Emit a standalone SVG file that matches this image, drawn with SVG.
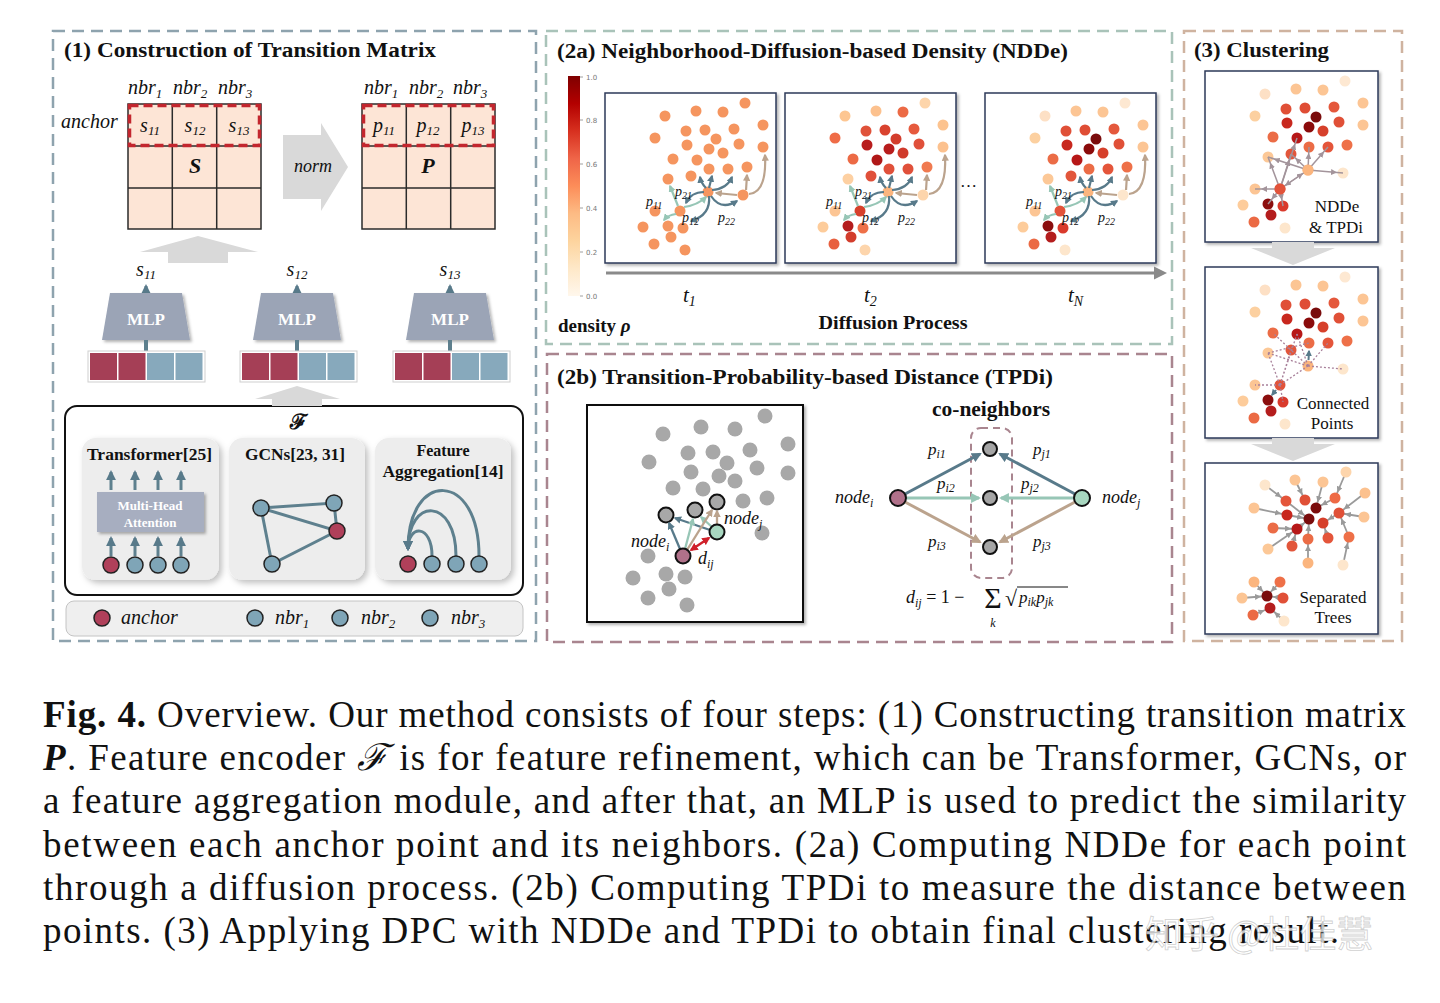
<svg xmlns="http://www.w3.org/2000/svg" xmlns:xlink="http://www.w3.org/1999/xlink" width="1440" height="1003" viewBox="0 0 1440 1003">
<style>
.ttl{font-family:"Liberation Serif","DejaVu Serif",serif;font-weight:bold;font-size:20.5px;fill:#111}
.m{font-family:"Liberation Serif","DejaVu Serif",serif;font-style:italic;fill:#111}
.b{font-family:"Liberation Serif","DejaVu Serif",serif;font-weight:bold;fill:#111}
.r{font-family:"Liberation Serif","DejaVu Serif",serif;fill:#111}
.dash{fill:none;stroke-width:2.5;stroke-dasharray:12 7}
.sc{fill:#fff;stroke:#2d3a5a;stroke-width:1.5}
.cap{font-family:"Liberation Serif","DejaVu Serif",serif;font-size:37px;fill:#111}
.gp{fill:#a8a8a8}
.hl{stroke:#111;stroke-width:2}
.cell{fill:#fde5d6;stroke:#2b2b2b;stroke-width:1.5}
.mlp{fill:#9ba4b6}
.red{fill:#b0405a;stroke:#222;stroke-width:1.5}
.blu{fill:#7fa5b7;stroke:#222;stroke-width:1.5}
.dk{fill:none;stroke:#587a8a}
.te{fill:none;stroke:#97c6b6}
.tn{fill:none;stroke:#bba38d}
.gray{fill:#d9d9d9}
.tree line{stroke:#9a9a9a;stroke-width:1.8}
.boxA line{stroke:#a3949b;stroke-width:1.5}
.boxB path{fill:none;stroke:#a8809a;stroke-width:1.3;stroke-dasharray:2 2}
</style>
<defs>
<filter id="sh" x="-10%" y="-10%" width="125%" height="125%"><feDropShadow dx="2" dy="2" stdDeviation="1.5" flood-opacity="0.3"/></filter>
<filter id="sh2" x="-10%" y="-10%" width="130%" height="130%"><feDropShadow dx="3" dy="3" stdDeviation="3" flood-opacity="0.25"/></filter>
<linearGradient id="orrd" x1="0" y1="0" x2="0" y2="1">
<stop offset="0" stop-color="#7f0000"/><stop offset="0.125" stop-color="#b30000"/><stop offset="0.25" stop-color="#d7301f"/><stop offset="0.375" stop-color="#ef6548"/><stop offset="0.5" stop-color="#fc8d59"/><stop offset="0.625" stop-color="#fdbb84"/><stop offset="0.75" stop-color="#fdd49e"/><stop offset="0.875" stop-color="#fee8c8"/><stop offset="1" stop-color="#fff7ec"/>
</linearGradient>
<marker id="md" viewBox="0 0 10 10" refX="8" refY="5" markerWidth="3.3" markerHeight="3.3" orient="auto-start-reverse"><path d="M0,0 L10,5 L0,10 z" fill="#587a8a"/></marker>
<marker id="mt" viewBox="0 0 10 10" refX="8" refY="5" markerWidth="3.3" markerHeight="3.3" orient="auto-start-reverse"><path d="M0,0 L10,5 L0,10 z" fill="#97c6b6"/></marker>
<marker id="mn" viewBox="0 0 10 10" refX="8" refY="5" markerWidth="3.3" markerHeight="3.3" orient="auto-start-reverse"><path d="M0,0 L10,5 L0,10 z" fill="#bba38d"/></marker>
<marker id="mr" viewBox="0 0 10 10" refX="8" refY="5" markerWidth="3.3" markerHeight="3.3" orient="auto-start-reverse"><path d="M0,0 L10,5 L0,10 z" fill="#d0202a"/></marker>
<marker id="mm" viewBox="0 0 6 6" refX="12" refY="3" markerWidth="6" markerHeight="6" markerUnits="userSpaceOnUse" orient="auto"><path d="M0,0 L6,3 L0,6 z" fill="#a3949b"/></marker>
<marker id="mg" viewBox="0 0 6 6" refX="12" refY="3" markerWidth="6" markerHeight="6" markerUnits="userSpaceOnUse" orient="auto"><path d="M0,0 L6,3 L0,6 z" fill="#9a9a9a"/></marker>
<g id="diffArr">
<path class="dk" stroke-width="2.2" marker-end="url(#md)" d="M101,95 Q96,90 95,84"/>
<path class="dk" stroke-width="2.2" marker-end="url(#md)" d="M104,95 L107,83"/>
<path class="dk" stroke-width="2.2" marker-end="url(#md)" d="M107,97 Q122,96 127,84"/>
<path class="dk" stroke-width="2.2" marker-end="url(#md)" d="M99,99 Q86,99 81,110"/>
<path class="dk" stroke-width="2.2" marker-end="url(#md)" d="M104,103 Q106,122 86,128"/>
<path class="dk" stroke-width="2.2" marker-end="url(#md)" d="M106,103 Q116,118 132,108"/>
<path class="te" stroke-width="2.2" marker-end="url(#mt)" d="M73,113 L65,93"/>
<path class="te" stroke-width="2.2" marker-end="url(#mt)" d="M71,121 Q63,122 59,127"/>
<path class="te" stroke-width="2.2" marker-end="url(#mt)" d="M79,114 Q93,112 101,104"/>
<path class="tn" stroke-width="2.2" marker-end="url(#mn)" d="M132,102 L111,100"/>
<path class="tn" stroke-width="2.2" marker-end="url(#mn)" d="M141,97 L142,82"/>
<path class="tn" stroke-width="2.2" marker-end="url(#mn)" d="M144,101 Q162,99 160,62"/>
</g>
<g id="ptsN">
<circle cx="140" cy="10" r="5.5" fill="#fde8d2"/><circle cx="60" cy="23" r="5.5" fill="#fde0c5"/><circle cx="91" cy="18" r="5.5" fill="#fcc594"/><circle cx="118" cy="19" r="5.5" fill="#fcc594"/><circle cx="158" cy="32" r="5.5" fill="#fcc594"/><circle cx="50" cy="45" r="5.5" fill="#fcd0a0"/><circle cx="81" cy="38" r="5.5" fill="#e05037"/><circle cx="100" cy="37" r="5.5" fill="#df4d35"/><circle cx="129" cy="36" r="5.5" fill="#e4583c"/><circle cx="111" cy="46" r="5.5" fill="#7a0c0c"/><circle cx="134" cy="51" r="5.5" fill="#e05037"/><circle cx="158" cy="54" r="5.5" fill="#fcc594"/><circle cx="82" cy="52" r="5.5" fill="#c8281e"/><circle cx="104" cy="56" r="5.5" fill="#8b0b0b"/><circle cx="118" cy="60" r="5.5" fill="#d6402b"/><circle cx="68" cy="66" r="5.5" fill="#eb6c46"/><circle cx="92" cy="67" r="5.5" fill="#b71818"/><circle cx="104" cy="76" r="5.5" fill="#eb6c46"/><circle cx="123" cy="76" r="5.5" fill="#e4553a"/><circle cx="142" cy="74" r="5.5" fill="#ee7048"/><circle cx="86" cy="83" r="5.5" fill="#e2563b"/><circle cx="63" cy="86" r="5.5" fill="#fcc897"/><circle cx="103" cy="99" r="5.5" fill="#fbb57e"/><circle cx="138" cy="102" r="5.5" fill="#fde6cc"/><circle cx="75" cy="118" r="5.5" fill="#e2533a"/><circle cx="50" cy="118" r="5.5" fill="#fcc594"/><circle cx="38" cy="134" r="5.5" fill="#fdcc9b"/><circle cx="63" cy="133" r="5.5" fill="#8b0e0e"/><circle cx="78" cy="135" r="5.5" fill="#d93a2c"/><circle cx="66" cy="144" r="5.5" fill="#b41d1d"/><circle cx="49" cy="151" r="5.5" fill="#eb6a44"/><circle cx="80" cy="157" r="5.5" fill="#fde6cc"/>
</g>
</defs>
<rect width="1440" height="1003" fill="#fff"/>

<!-- ===== Panel 1 ===== -->
<g id="panel1">
<rect class="dash" x="53" y="31" width="483" height="610" stroke="#8ea3ae"/>
<text class="ttl" x="64" y="57" textLength="372" lengthAdjust="spacingAndGlyphs">(1) Construction of Transition Matrix</text>
</g>
<g id="matrixS">
<rect class="cell" x="128" y="104" width="133" height="125"/>
<path d="M172.3,104 V229 M216.7,104 V229 M128,146 H261 M128,188 H261" stroke="#2b2b2b" stroke-width="1.5"/>
<rect x="129.5" y="105.5" width="130" height="40" fill="none" stroke="#c3262e" stroke-width="3.5" stroke-dasharray="9 5"/>
<text class="m" font-size="20" x="128" y="94">nbr<tspan font-size="13" dy="4">1</tspan></text>
<text class="m" font-size="20" x="173" y="94">nbr<tspan font-size="13" dy="4">2</tspan></text>
<text class="m" font-size="20" x="218" y="94">nbr<tspan font-size="13" dy="4">3</tspan></text>
<text class="m" font-size="20" x="61" y="128">anchor</text>
<text class="m" font-size="20" x="150" y="132" text-anchor="middle">s<tspan font-size="13" dy="3">11</tspan></text>
<text class="m" font-size="20" x="195" y="132" text-anchor="middle">s<tspan font-size="13" dy="3">12</tspan></text>
<text class="m" font-size="20" x="239" y="132" text-anchor="middle">s<tspan font-size="13" dy="3">13</tspan></text>
<text class="m" font-size="22" font-weight="bold" x="195" y="173" text-anchor="middle">S</text>
</g>
<g id="matrixP">
<rect class="cell" x="362" y="104" width="133" height="125"/>
<path d="M406.3,104 V229 M450.7,104 V229 M362,146 H495 M362,188 H495" stroke="#2b2b2b" stroke-width="1.5"/>
<rect x="363.5" y="105.5" width="130" height="40" fill="none" stroke="#c3262e" stroke-width="3.5" stroke-dasharray="9 5"/>
<text class="m" font-size="20" x="364" y="94">nbr<tspan font-size="13" dy="4">1</tspan></text>
<text class="m" font-size="20" x="409" y="94">nbr<tspan font-size="13" dy="4">2</tspan></text>
<text class="m" font-size="20" x="453" y="94">nbr<tspan font-size="13" dy="4">3</tspan></text>
<text class="m" font-size="20" x="384" y="132" text-anchor="middle">p<tspan font-size="13" dy="3">11</tspan></text>
<text class="m" font-size="20" x="428" y="132" text-anchor="middle">p<tspan font-size="13" dy="3">12</tspan></text>
<text class="m" font-size="20" x="473" y="132" text-anchor="middle">p<tspan font-size="13" dy="3">13</tspan></text>
<text class="m" font-size="22" font-weight="bold" x="428" y="173" text-anchor="middle">P</text>
</g>

<g id="mlp1">
<line x1="146" y1="293" x2="146" y2="286" stroke="#5d7f8d" stroke-width="3" marker-end="url(#md)"/>
<text class="m" font-size="20" x="146" y="276" text-anchor="middle">s<tspan font-size="13" dy="3">11</tspan></text>
<polygon class="mlp" points="110,293 182,293 190,340 102,340" filter="url(#sh)"/>
<text class="b" font-size="17" x="146" y="325" text-anchor="middle" style="fill:#fff">MLP</text>
<rect x="144" y="340" width="4" height="12" fill="#5d7f8d"/>
<rect x="88" y="351" width="117" height="31" fill="#fff" stroke="#cfcfcf"/>
<rect x="90" y="353" width="27" height="27" fill="#a53f56"/><rect x="118.5" y="353" width="27" height="27" fill="#a53f56"/><rect x="147" y="353" width="27" height="27" fill="#87a9bc"/><rect x="175.5" y="353" width="27" height="27" fill="#87a9bc"/>
</g>
<g id="mlp2">
<line x1="297" y1="293" x2="297" y2="286" stroke="#5d7f8d" stroke-width="3" marker-end="url(#md)"/>
<text class="m" font-size="20" x="297" y="276" text-anchor="middle">s<tspan font-size="13" dy="3">12</tspan></text>
<polygon class="mlp" points="261,293 333,293 341,340 253,340" filter="url(#sh)"/>
<text class="b" font-size="17" x="297" y="325" text-anchor="middle" style="fill:#fff">MLP</text>
<rect x="295" y="340" width="4" height="12" fill="#5d7f8d"/>
<rect x="240" y="351" width="117" height="31" fill="#fff" stroke="#cfcfcf"/>
<rect x="242" y="353" width="27" height="27" fill="#a53f56"/><rect x="270.5" y="353" width="27" height="27" fill="#a53f56"/><rect x="299" y="353" width="27" height="27" fill="#87a9bc"/><rect x="327.5" y="353" width="27" height="27" fill="#87a9bc"/>
</g>
<g id="mlp3">
<line x1="450" y1="293" x2="450" y2="286" stroke="#5d7f8d" stroke-width="3" marker-end="url(#md)"/>
<text class="m" font-size="20" x="450" y="276" text-anchor="middle">s<tspan font-size="13" dy="3">13</tspan></text>
<polygon class="mlp" points="414,293 486,293 494,340 406,340" filter="url(#sh)"/>
<text class="b" font-size="17" x="450" y="325" text-anchor="middle" style="fill:#fff">MLP</text>
<rect x="448" y="340" width="4" height="12" fill="#5d7f8d"/>
<rect x="393" y="351" width="117" height="31" fill="#fff" stroke="#cfcfcf"/>
<rect x="395" y="353" width="27" height="27" fill="#a53f56"/><rect x="423.5" y="353" width="27" height="27" fill="#a53f56"/><rect x="452" y="353" width="27" height="27" fill="#87a9bc"/><rect x="480.5" y="353" width="27" height="27" fill="#87a9bc"/>
</g>

<g id="encoderF">
<rect x="65" y="406" width="458" height="189" rx="12" fill="#fff" stroke="#111" stroke-width="2"/>
<text class="b" font-size="21" x="298" y="429" text-anchor="middle">ℱ</text>
<rect x="82" y="438" width="137" height="142" rx="14" fill="#ededed" filter="url(#sh2)"/>
<rect x="229" y="438" width="136" height="142" rx="14" fill="#ededed" filter="url(#sh2)"/>
<rect x="375" y="438" width="136" height="142" rx="14" fill="#ededed" filter="url(#sh2)"/>
</g>
<g id="transformer">
<text class="b" font-size="16" x="87" y="460" textLength="125" lengthAdjust="spacingAndGlyphs">Transformer[25]</text>
<rect x="97" y="492" width="107" height="40" fill="#a7aec0" filter="url(#sh)"/>
<text class="b" font-size="13" x="150" y="510" text-anchor="middle" style="fill:#fff">Multi-Head</text>
<text class="b" font-size="13" x="150" y="527" text-anchor="middle" style="fill:#fff">Attention</text>
<g stroke="#5e808e" stroke-width="3" marker-end="url(#md)">
<line x1="111" y1="490" x2="111" y2="472"/><line x1="135" y1="490" x2="135" y2="472"/><line x1="158" y1="490" x2="158" y2="472"/><line x1="181" y1="490" x2="181" y2="472"/>
<line x1="111" y1="556" x2="111" y2="538"/><line x1="135" y1="556" x2="135" y2="538"/><line x1="158" y1="556" x2="158" y2="538"/><line x1="181" y1="556" x2="181" y2="538"/>
</g>
<circle class="red" cx="111" cy="565" r="8"/><circle class="blu" cx="135" cy="565" r="8"/><circle class="blu" cx="158" cy="565" r="8"/><circle class="blu" cx="181" cy="565" r="8"/>
</g>
<g id="gcn">
<text class="b" font-size="16" x="245" y="460" textLength="100" lengthAdjust="spacingAndGlyphs">GCNs[23, 31]</text>
<path d="M261,508 L334,503 L337,531 Z M261,508 L272,564 L337,531" fill="none" stroke="#5e808e" stroke-width="3"/>
<circle class="blu" cx="261" cy="508" r="8"/><circle class="blu" cx="334" cy="503" r="8"/><circle class="red" cx="337" cy="531" r="8"/><circle class="blu" cx="272" cy="564" r="8"/>
</g>
<g id="featagg">
<text class="b" font-size="16" x="443" y="456" text-anchor="middle">Feature</text>
<text class="b" font-size="16" x="443" y="477" text-anchor="middle" textLength="121" lengthAdjust="spacingAndGlyphs">Aggregation[14]</text>
<g fill="none" stroke="#5e808e" stroke-width="3" marker-end="url(#md)">
<path d="M479,556 C479,470 408,470 408,549"/>
<path d="M456,556 C456,497 408,497 408,549"/>
<path d="M432,556 C432,524 408,524 408,549"/>
</g>
<circle class="red" cx="408" cy="564" r="8"/><circle class="blu" cx="432" cy="564" r="8"/><circle class="blu" cx="456" cy="564" r="8"/><circle class="blu" cx="479" cy="564" r="8"/>
</g>
<g id="legend">
<rect x="66" y="601" width="457" height="35" rx="8" fill="#efefef" stroke="#c4c4c4"/>
<circle class="red" cx="102" cy="618" r="8"/>
<text class="m" font-size="20" x="121" y="624">anchor</text>
<circle class="blu" cx="255" cy="618" r="8"/>
<text class="m" font-size="20" x="275" y="624">nbr<tspan font-size="13" dy="4">1</tspan></text>
<circle class="blu" cx="340" cy="618" r="8"/>
<text class="m" font-size="20" x="361" y="624">nbr<tspan font-size="13" dy="4">2</tspan></text>
<circle class="blu" cx="430" cy="618" r="8"/>
<text class="m" font-size="20" x="451" y="624">nbr<tspan font-size="13" dy="4">3</tspan></text>
</g>

<!-- ===== Panel 2a ===== -->
<g id="panel2a">
<rect class="dash" x="546" y="31" width="626" height="313" stroke="#a9c3b9"/>
<text class="ttl" x="557" y="58" textLength="511" lengthAdjust="spacingAndGlyphs">(2a) Neighborhood-Diffusion-based Density (NDDe)</text>
<rect x="568" y="76" width="12" height="220" fill="url(#orrd)"/>
<path d="M580,77 h3 M580,120 h3 M580,164 h3 M580,208 h3 M580,252 h3 M580,296 h3" stroke="#888" stroke-width="0.8"/>
<g font-family="DejaVu Sans, sans-serif" font-size="7" fill="#777">
<text x="586" y="79.5">1.0</text><text x="586" y="123">0.8</text><text x="586" y="167">0.6</text><text x="586" y="211">0.4</text><text x="586" y="255">0.2</text><text x="586" y="299">0.0</text>
</g>
<text class="b" font-size="19" x="558" y="332">density <tspan font-style="italic">ρ</tspan></text>
<text class="b" font-size="19" x="893" y="329" text-anchor="middle" textLength="149" lengthAdjust="spacingAndGlyphs">Diffusion Process</text>
<text class="m" font-size="21" x="683" y="302">t<tspan font-size="14" dy="4">1</tspan></text>
<text class="m" font-size="21" x="864" y="302">t<tspan font-size="14" dy="4">2</tspan></text>
<text class="m" font-size="21" x="1068" y="302">t<tspan font-size="14" dy="4">N</tspan></text>
<text class="r" font-size="17" x="960" y="187">…</text>
</g>
<g id="plot_t1" transform="translate(605,93)">
<rect class="sc" width="171" height="170" filter="url(#sh)"/>
<g fill="#f5955f">
<circle cx="140" cy="10" r="5.5"/><circle cx="60" cy="23" r="5.5"/><circle cx="91" cy="18" r="5.5"/><circle cx="118" cy="19" r="5.5"/><circle cx="158" cy="32" r="5.5"/><circle cx="50" cy="45" r="5.5"/><circle cx="81" cy="38" r="5.5"/><circle cx="100" cy="37" r="5.5"/><circle cx="129" cy="36" r="5.5"/><circle cx="111" cy="46" r="5.5"/><circle cx="134" cy="51" r="5.5"/><circle cx="158" cy="54" r="5.5"/><circle cx="82" cy="52" r="5.5"/><circle cx="104" cy="56" r="5.5"/><circle cx="118" cy="60" r="5.5"/><circle cx="68" cy="66" r="5.5"/><circle cx="92" cy="67" r="5.5"/><circle cx="104" cy="76" r="5.5"/><circle cx="123" cy="76" r="5.5"/><circle cx="142" cy="74" r="5.5"/><circle cx="86" cy="83" r="5.5"/><circle cx="63" cy="86" r="5.5"/><circle cx="103" cy="99" r="5.5"/><circle cx="138" cy="102" r="5.5"/><circle cx="75" cy="118" r="5.5"/><circle cx="50" cy="118" r="5.5"/><circle cx="38" cy="134" r="5.5"/><circle cx="63" cy="133" r="5.5"/><circle cx="78" cy="135" r="5.5"/><circle cx="66" cy="144" r="5.5"/><circle cx="49" cy="151" r="5.5"/><circle cx="80" cy="157" r="5.5"/>
</g>
<use href="#diffArr"/>
<text class="m" font-size="14" x="70" y="103">p<tspan font-size="10" dy="3">21</tspan></text>
<text class="m" font-size="14" x="41" y="113">p<tspan font-size="10" dy="3">11</tspan></text>
<text class="m" font-size="14" x="77" y="129">p<tspan font-size="10" dy="3">12</tspan></text>
<text class="m" font-size="14" x="113" y="129">p<tspan font-size="10" dy="3">22</tspan></text>
</g>
<g id="plot_t2" transform="translate(785,93)">
<rect class="sc" width="171" height="170" filter="url(#sh)"/>
<circle cx="140" cy="10" r="5.5" fill="#fdd5ab"/><circle cx="60" cy="23" r="5.5" fill="#fdc692"/><circle cx="91" cy="18" r="5.5" fill="#fcc18e"/><circle cx="118" cy="19" r="5.5" fill="#ec6a45"/><circle cx="158" cy="32" r="5.5" fill="#fcc38f"/><circle cx="50" cy="45" r="5.5" fill="#ef6c47"/><circle cx="81" cy="38" r="5.5" fill="#e0523a"/><circle cx="100" cy="37" r="5.5" fill="#d9432f"/><circle cx="129" cy="36" r="5.5" fill="#e65a3d"/><circle cx="111" cy="46" r="5.5" fill="#d33d2c"/><circle cx="134" cy="51" r="5.5" fill="#e0503a"/><circle cx="158" cy="54" r="5.5" fill="#fcc18e"/><circle cx="82" cy="52" r="5.5" fill="#b81d1d"/><circle cx="104" cy="56" r="5.5" fill="#b81d1d"/><circle cx="118" cy="60" r="5.5" fill="#d03a2b"/><circle cx="68" cy="66" r="5.5" fill="#ec6a45"/><circle cx="92" cy="67" r="5.5" fill="#b01818"/><circle cx="104" cy="76" r="5.5" fill="#e0503a"/><circle cx="123" cy="76" r="5.5" fill="#e0503a"/><circle cx="142" cy="74" r="5.5" fill="#f07a50"/><circle cx="86" cy="83" r="5.5" fill="#e0503a"/><circle cx="63" cy="86" r="5.5" fill="#fdd0a2"/><circle cx="103" cy="99" r="5.5" fill="#fbb57e"/><circle cx="138" cy="102" r="5.5" fill="#fdd5ac"/><circle cx="75" cy="118" r="5.5" fill="#d6402b"/><circle cx="50" cy="118" r="5.5" fill="#fcc594"/><circle cx="38" cy="134" r="5.5" fill="#fdcc9b"/><circle cx="63" cy="133" r="5.5" fill="#b41d1d"/><circle cx="78" cy="135" r="5.5" fill="#ee7048"/><circle cx="66" cy="144" r="5.5" fill="#d33d2c"/><circle cx="49" cy="151" r="5.5" fill="#e8603f"/><circle cx="80" cy="157" r="5.5" fill="#fdd5ac"/>
<use href="#diffArr"/>
<text class="m" font-size="14" x="70" y="103">p<tspan font-size="10" dy="3">21</tspan></text>
<text class="m" font-size="14" x="41" y="113">p<tspan font-size="10" dy="3">11</tspan></text>
<text class="m" font-size="14" x="77" y="129">p<tspan font-size="10" dy="3">12</tspan></text>
<text class="m" font-size="14" x="113" y="129">p<tspan font-size="10" dy="3">22</tspan></text>
</g>
<g id="plot_tN" transform="translate(985,93)">
<rect class="sc" width="171" height="170" filter="url(#sh)"/>
<use href="#ptsN"/>
<use href="#diffArr"/>
<text class="m" font-size="14" x="70" y="103">p<tspan font-size="10" dy="3">21</tspan></text>
<text class="m" font-size="14" x="41" y="113">p<tspan font-size="10" dy="3">11</tspan></text>
<text class="m" font-size="14" x="77" y="129">p<tspan font-size="10" dy="3">12</tspan></text>
<text class="m" font-size="14" x="113" y="129">p<tspan font-size="10" dy="3">22</tspan></text>
</g>

<!-- ===== Panel 2b ===== -->
<g id="panel2b">
<rect class="dash" x="547" y="354" width="625" height="288" stroke="#a9858f"/>
<text class="ttl" x="557" y="384" textLength="496" lengthAdjust="spacingAndGlyphs">(2b) Transition-Probability-based Distance (TPDi)</text>
</g>
<g id="tpdiScatter">
<rect x="587" y="405" width="216" height="217" fill="#fff" stroke="#111" stroke-width="2" filter="url(#sh)"/>
<g class="gp">
<circle cx="765" cy="416" r="7.5"/><circle cx="701" cy="427" r="7.5"/><circle cx="735" cy="429" r="7.5"/><circle cx="663" cy="434" r="7.5"/><circle cx="788" cy="444" r="7.5"/><circle cx="688" cy="453" r="7.5"/><circle cx="713" cy="452" r="7.5"/><circle cx="750" cy="450" r="7.5"/><circle cx="649" cy="462" r="7.5"/><circle cx="727" cy="463" r="7.5"/><circle cx="691" cy="472" r="7.5"/><circle cx="757" cy="468" r="7.5"/><circle cx="788" cy="473" r="7.5"/><circle cx="719" cy="476" r="7.5"/><circle cx="735" cy="481" r="7.5"/><circle cx="673" cy="488" r="7.5"/><circle cx="703" cy="489" r="7.5"/><circle cx="743" cy="501" r="7.5"/><circle cx="767" cy="498" r="7.5"/><circle cx="762" cy="533" r="7.5"/><circle cx="648" cy="556" r="7.5"/><circle cx="666" cy="574" r="7.5"/><circle cx="685" cy="577" r="7.5"/><circle cx="633" cy="578" r="7.5"/><circle cx="669" cy="589" r="7.5"/><circle cx="648" cy="598" r="7.5"/><circle cx="687" cy="605" r="7.5"/>
</g>
<circle class="hl" cx="666" cy="515" r="7.5" fill="#a8a8a8"/><circle class="hl" cx="695" cy="510" r="7.5" fill="#a8a8a8"/><circle class="hl" cx="717" cy="502" r="7.5" fill="#a8a8a8"/>
<g stroke-width="2.3" fill="none">
<line class="dk" x1="680" y1="549" x2="669" y2="523" marker-end="url(#md)"/>
<line class="dk" x1="710" y1="530" x2="675" y2="518" marker-end="url(#md)"/>
<line class="te" x1="685" y1="549" x2="693" y2="519" marker-end="url(#mt)"/>
<line class="te" x1="712" y1="527" x2="701" y2="517" marker-end="url(#mt)"/>
<line class="tn" x1="687" y1="550" x2="712" y2="510" marker-end="url(#mn)"/>
<line class="tn" x1="717" y1="525" x2="717" y2="511" marker-end="url(#mn)"/>
<line x1="691" y1="550" x2="709" y2="538" stroke="#d0202a" stroke-width="2.5" marker-start="url(#mr)" marker-end="url(#mr)"/>
</g>
<circle class="hl" cx="717" cy="532" r="7.5" fill="#a8d7c0"/>
<circle class="hl" cx="683" cy="556" r="7.5" fill="#b0718a"/>
<text class="m" font-size="18" x="631" y="547">node<tspan font-size="12" dy="4">i</tspan></text>
<text class="m" font-size="18" x="724" y="524">node<tspan font-size="12" dy="4">j</tspan></text>
<text class="m" font-size="18" x="698" y="564">d<tspan font-size="12" dy="4">ij</tspan></text>
</g>
<g id="coneighbors">
<text class="b" font-size="20" x="991" y="416" text-anchor="middle" textLength="118" lengthAdjust="spacingAndGlyphs">co-neighbors</text>
<rect x="971" y="428" width="41" height="150" rx="10" fill="none" stroke="#a9858f" stroke-width="2" stroke-dasharray="7 5"/>
<g stroke-width="3" fill="none">
<line class="dk" x1="905" y1="494" x2="980" y2="454" marker-end="url(#md)"/>
<line class="dk" x1="1075" y1="494" x2="1000" y2="454" marker-end="url(#md)"/>
<line class="te" x1="907" y1="498" x2="979" y2="498" marker-end="url(#mt)"/>
<line class="te" x1="1073" y1="498" x2="1001" y2="498" marker-end="url(#mt)"/>
<line class="tn" x1="905" y1="502" x2="980" y2="542" marker-end="url(#mn)"/>
<line class="tn" x1="1075" y1="502" x2="1000" y2="542" marker-end="url(#mn)"/>
</g>
<circle class="hl" cx="990" cy="449" r="7" fill="#a5a5a5" stroke-width="1.6"/>
<circle class="hl" cx="990" cy="498" r="7" fill="#a5a5a5" stroke-width="1.6"/>
<circle class="hl" cx="990" cy="547" r="7" fill="#a5a5a5" stroke-width="1.6"/>
<circle class="hl" cx="898" cy="498" r="8" fill="#b0718a" stroke-width="1.6"/>
<circle class="hl" cx="1082" cy="498" r="8" fill="#a8d7c0" stroke-width="1.6"/>
<text class="m" font-size="18" x="835" y="503">node<tspan font-size="12" dy="4">i</tspan></text>
<text class="m" font-size="18" x="1102" y="503">node<tspan font-size="12" dy="4">j</tspan></text>
<text class="m" font-size="17" x="928" y="455">p<tspan font-size="12" dy="3">i1</tspan></text>
<text class="m" font-size="17" x="1033" y="455">p<tspan font-size="12" dy="3">j1</tspan></text>
<text class="m" font-size="17" x="937" y="489">p<tspan font-size="12" dy="3">i2</tspan></text>
<text class="m" font-size="17" x="1021" y="489">p<tspan font-size="12" dy="3">j2</tspan></text>
<text class="m" font-size="17" x="928" y="547">p<tspan font-size="12" dy="3">i3</tspan></text>
<text class="m" font-size="17" x="1033" y="547">p<tspan font-size="12" dy="3">j3</tspan></text>
<text class="m" font-size="18" x="906" y="603">d<tspan font-size="12" dy="4">ij</tspan><tspan font-style="normal" dy="-4"> = 1 − </tspan></text>
<text class="r" font-size="30" x="993" y="608" text-anchor="middle">Σ</text>
<text class="m" font-size="12" x="993" y="627" text-anchor="middle">k</text>
<text class="r" font-size="22" x="1005" y="606">√</text>
<line x1="1017" y1="587" x2="1068" y2="587" stroke="#111" stroke-width="1"/>
<text class="m" font-size="17" x="1019" y="603">p<tspan font-size="12" dy="3">ik</tspan><tspan dy="-3">p</tspan><tspan font-size="12" dy="3">jk</tspan></text>
</g>

<!-- ===== Panel 3 ===== -->
<g id="panel3">
<rect class="dash" x="1184" y="31" width="218" height="610" stroke="#cfb3a0"/>
<text class="ttl" x="1194" y="57" textLength="135" lengthAdjust="spacingAndGlyphs">(3) Clustering</text>
</g>
<g id="boxA" transform="translate(1205,71)">
<rect class="sc" width="173" height="171" filter="url(#sh)"/>
<use href="#ptsN"/>
<g class="boxA">
<line x1="103" y1="99" x2="63" y2="86" marker-end="url(#mm)"/>
<line x1="103" y1="99" x2="86" y2="83" marker-end="url(#mm)"/>
<line x1="103" y1="99" x2="104" y2="76" marker-end="url(#mm)"/>
<line x1="103" y1="99" x2="123" y2="76" marker-end="url(#mm)"/>
<line x1="103" y1="99" x2="138" y2="102" marker-end="url(#mm)"/>
<line x1="103" y1="99" x2="75" y2="118" marker-end="url(#mm)"/>
<line x1="75" y1="118" x2="63" y2="86" marker-end="url(#mm)"/>
<line x1="75" y1="118" x2="86" y2="83" marker-end="url(#mm)"/>
<line x1="75" y1="118" x2="92" y2="67" marker-end="url(#mm)"/>
<line x1="75" y1="118" x2="103" y2="99" marker-end="url(#mm)"/>
<line x1="75" y1="118" x2="50" y2="118" marker-end="url(#mm)"/>
<line x1="75" y1="118" x2="63" y2="133" marker-end="url(#mm)"/>
<line x1="75" y1="118" x2="78" y2="135" marker-end="url(#mm)"/>
</g>
<circle cx="103" cy="99" r="5.5" fill="#fbb57e"/><circle cx="75" cy="118" r="5.5" fill="#e2533a"/>
<text class="r" font-size="17" x="132" y="141" text-anchor="middle">NDDe</text>
<text class="r" font-size="17" x="131" y="162" text-anchor="middle">&amp; TPDi</text>
</g>
<g id="boxB" transform="translate(1205,267)">
<rect class="sc" width="173" height="171" filter="url(#sh)"/>
<use href="#ptsN"/>
<g class="boxB">
<path d="M103,99 L63,86 M103,99 L86,83 M103,99 L92,67 M103,99 L123,76 M103,99 L138,102 M103,99 L68,66 M75,118 L63,86 M75,118 L86,83 M75,118 L92,67 M75,118 L50,118 M75,118 L78,135 M75,118 L103,99 M63,86 L104,76"/>
</g>
<line x1="103.5" y1="93" x2="104" y2="84" stroke="#587a8a" stroke-width="2" marker-end="url(#md)"/>
<line x1="71" y1="123" x2="67" y2="128" stroke="#587a8a" stroke-width="2" marker-end="url(#md)"/>
<text class="r" font-size="17" x="128" y="142" text-anchor="middle">Connected</text>
<text class="r" font-size="17" x="127" y="162" text-anchor="middle">Points</text>
</g>
<g id="boxC">
<rect class="sc" x="1205" y="463" width="173" height="171" filter="url(#sh)"/>
<g class="tree" marker-end="url(#mg)">
<line x1="1346" y1="472" x2="1335" y2="498"/>
<line x1="1295" y1="480" x2="1305" y2="500"/>
<line x1="1323" y1="482" x2="1316" y2="508"/>
<line x1="1265" y1="485" x2="1286" y2="501"/>
<line x1="1365" y1="493" x2="1339" y2="513"/>
<line x1="1335" y1="498" x2="1316" y2="508"/>
<line x1="1286" y1="501" x2="1309" y2="519"/>
<line x1="1254" y1="508" x2="1287" y2="515"/>
<line x1="1364" y1="517" x2="1339" y2="513"/>
<line x1="1339" y1="513" x2="1323" y2="523"/>
<line x1="1287" y1="515" x2="1309" y2="519"/>
<line x1="1273" y1="528" x2="1297" y2="529"/>
<line x1="1297" y1="529" x2="1309" y2="519"/>
<line x1="1308" y1="539" x2="1309" y2="519"/>
<line x1="1328" y1="538" x2="1323" y2="523"/>
<line x1="1349" y1="537" x2="1339" y2="513"/>
<line x1="1292" y1="546" x2="1297" y2="529"/>
<line x1="1268" y1="549" x2="1297" y2="529"/>
<line x1="1308" y1="563" x2="1308" y2="539"/>
<line x1="1343" y1="565" x2="1349" y2="537"/>
<line x1="1254" y1="582" x2="1267" y2="596"/>
<line x1="1280" y1="582" x2="1267" y2="596"/>
<line x1="1283" y1="598" x2="1267" y2="596"/>
<line x1="1242" y1="598" x2="1267" y2="596"/>
<line x1="1253" y1="615" x2="1270" y2="608"/>
<line x1="1284" y1="621" x2="1270" y2="608"/>
</g>
<circle cx="1346" cy="472" r="5.5" fill="#fdd5ac"/><circle cx="1295" cy="480" r="5.5" fill="#fcc594"/><circle cx="1323" cy="482" r="5.5" fill="#fcc594"/><circle cx="1265" cy="485" r="5.5" fill="#fde6cc"/><circle cx="1365" cy="493" r="5.5" fill="#fcc18e"/><circle cx="1335" cy="498" r="5.5" fill="#ee6a45"/><circle cx="1286" cy="501" r="5.5" fill="#e4553a"/><circle cx="1305" cy="500" r="5.5" fill="#e05037"/><circle cx="1316" cy="508" r="5.5" fill="#7a0c0c"/><circle cx="1339" cy="513" r="5.5" fill="#e05037"/><circle cx="1254" cy="508" r="5.5" fill="#fcc594"/><circle cx="1287" cy="515" r="5.5" fill="#c8281e"/><circle cx="1309" cy="519" r="5.5" fill="#7a0c0c"/><circle cx="1323" cy="523" r="5.5" fill="#d6402b"/><circle cx="1364" cy="517" r="5.5" fill="#fcc594"/><circle cx="1273" cy="528" r="5.5" fill="#eb6c46"/><circle cx="1297" cy="529" r="5.5" fill="#b71818"/><circle cx="1308" cy="539" r="5.5" fill="#eb6c46"/><circle cx="1328" cy="538" r="5.5" fill="#e4553a"/><circle cx="1349" cy="537" r="5.5" fill="#ee7048"/><circle cx="1292" cy="546" r="5.5" fill="#e2563b"/><circle cx="1268" cy="549" r="5.5" fill="#fcc897"/><circle cx="1308" cy="563" r="5.5" fill="#fbb57e"/><circle cx="1343" cy="565" r="5.5" fill="#fde6cc"/>
<circle cx="1254" cy="582" r="5.5" fill="#fbb57e"/><circle cx="1280" cy="582" r="5.5" fill="#ee7048"/><circle cx="1267" cy="596" r="5.5" fill="#7a0c0c"/><circle cx="1283" cy="598" r="5.5" fill="#e05037"/><circle cx="1242" cy="598" r="5.5" fill="#fcc594"/><circle cx="1270" cy="608" r="5.5" fill="#b41d1d"/><circle cx="1253" cy="615" r="5.5" fill="#eb6a44"/><circle cx="1284" cy="621" r="5.5" fill="#fde6cc"/>
<text class="r" font-size="17" x="1333" y="603" text-anchor="middle">Separated</text>
<text class="r" font-size="17" x="1333" y="623" text-anchor="middle">Trees</text>
</g>

<!-- ===== Connectors ===== -->
<g id="connectors">
<polygon class="gray" points="283,135 321,135 321,123 348,167 321,211 321,199 283,199"/>
<text class="m" font-size="18" x="313" y="172" text-anchor="middle">norm</text>
<polygon class="gray" points="168,263 168,252 140,252 198,236 258,252 228,252 228,263"/>
<polygon class="gray" points="272,406 272,399 255,399 297,386 340,399 322,399 322,406"/>
<line x1="606" y1="273" x2="1156" y2="273" stroke="#8a8a8a" stroke-width="3"/>
<polygon points="1167,273 1154,266.5 1154,279.5" fill="#8a8a8a"/>
<polygon class="gray" points="1272,242 1314,242 1314,248 1335,248 1293,265 1251,248 1272,248"/>
<polygon class="gray" points="1272,438 1314,438 1314,444 1335,444 1293,461 1251,444 1272,444"/>
</g>

<!-- ===== Caption ===== -->
<g id="caption">
<text class="cap" x="43" y="727" textLength="1363" lengthAdjust="spacing"><tspan font-weight="bold">Fig. 4.</tspan> Overview. Our method consists of four steps: (1) Constructing transition matrix</text>
<text class="cap" x="43" y="770" textLength="1363" lengthAdjust="spacing"><tspan font-weight="bold" font-style="italic">P</tspan>. Feature encoder <tspan font-style="italic">ℱ</tspan> is for feature refinement, which can be Transformer, GCNs, or</text>
<text class="cap" x="43" y="813" textLength="1363" lengthAdjust="spacing">a feature aggregation module, and after that, an MLP is used to predict the similarity</text>
<text class="cap" x="43" y="857" textLength="1363" lengthAdjust="spacing">between each anchor point and its neighbors. (2a) Computing NDDe for each point</text>
<text class="cap" x="43" y="900" textLength="1363" lengthAdjust="spacing">through a diffusion process. (2b) Computing TPDi to measure the distance between</text>
<text class="cap" x="43" y="943" textLength="1296" lengthAdjust="spacing">points. (3) Applying DPC with NDDe and TPDi to obtain final clustering result.</text>
<text x="1145" y="948" font-family="Noto Sans CJK SC, sans-serif" font-size="37" fill="#ffffff" fill-opacity="0.75" stroke="#a0a0a0" stroke-opacity="0.5" stroke-width="0.8">知乎 @杜佳慧</text>
</g>
</svg>
